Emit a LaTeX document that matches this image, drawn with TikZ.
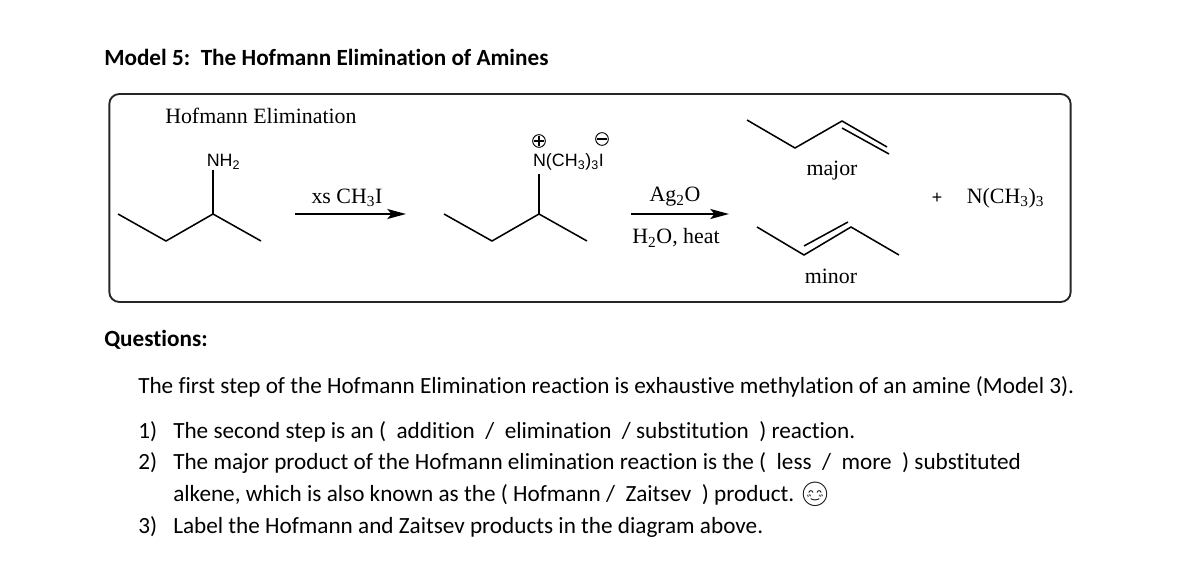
\documentclass[tikz,border=0pt]{standalone}
\usepackage{fontspec}
\usepackage{amsmath}
\setmainfont[Ligatures=NoCommon]{Carlito}
\newfontfamily\seriffont{Liberation Serif}
\newfontfamily\arialfont{Liberation Sans}
\newfontfamily\emojifont{Noto Emoji}
\usetikzlibrary{arrows.meta,positioning}

\begin{document}
\begin{tikzpicture}[x=0.75pt, y=-0.75pt, node distance=2.0mm and 2.5mm, >={Stealth[length=14pt, width=7.5pt, inset=3pt]},
		title/.style={draw=none, inner sep=0pt, anchor=base west, font=\fontsize{17.4}{20}\selectfont\bfseries},
		body/.style={draw=none, inner sep=0pt, anchor=base west, font=\fontsize{17.4}{20}\selectfont},
		word/.style={draw=none, inner sep=0pt, font=\fontsize{16.4}{18}\selectfont\seriffont},
		atom/.style={draw=none, inner sep=0pt, font=\fontsize{13.4}{14}\selectfont\arialfont},
		charge/.style={draw=black, circle, line width=0.7pt, minimum size=9.5pt, inner sep=0pt},
		sign/.style={line width=0.8pt, shorten >=1.6pt, shorten <=1.6pt},
		bond/.style={line width=1.15pt, -, color=black},
		rxnarrow/.style={line width=1.15pt, ->, color=black}
		]
		\useasboundingbox (0,0) rectangle (1179,585);
		\node[title](head) at (104,66) {Model 5:\ \ The Hofmann Elimination of Amines};
		\node[draw=black!85, line width=1.4pt, rounded corners=7.5pt, minimum width=721pt, minimum height=156pt, inner sep=0pt](box) at (590,198) {};
		\node[word, anchor=base west](name) at (165,123) {Hofmann Elimination};

		% amine
		\coordinate (a1) at (118,214);
		\coordinate (a2) at (166,241);
		\coordinate (a3) at (213,214);
		\coordinate (a4) at (261,241);
		\node[atom](nh2) at (223.5,162) {NH\textsubscript{2}};
		\coordinate (a5) at (213,170);
		\draw [bond] (a1) -- (a2) -- (a3) -- (a4);
		\draw [bond] (a3) -- (a5);

		% first arrow
		\coordinate (r1s) at (295,214);
		\coordinate (r1e) at (406,214);
		\draw [rxnarrow] (r1s) -- (r1e);
		\node[word](xs) at (347,198) {xs CH\textsubscript{3}I};

		% ammonium salt
		\coordinate (b1) at (444,214);
		\coordinate (b2) at (492,241);
		\coordinate (b3) at (539,214);
		\coordinate (b4) at (587,241);
		\coordinate (b5) at (539,174);
		\node[atom](salt) at (568.5,162) {N(CH\textsubscript{3})\textsubscript{3}I};
		\node[charge](plus) at (539,141) {};
		\node[charge](minus) at (602,139) {};
		\draw [sign] (plus.west) -- (plus.east);
		\draw [sign] (plus.north) -- (plus.south);
		\draw [sign] (minus.west) -- (minus.east);
		\draw [bond] (b1) -- (b2) -- (b3) -- (b4);
		\draw [bond] (b3) -- (b5);

		% second arrow
		\coordinate (r2s) at (631,214);
		\coordinate (r2e) at (729,214);
		\draw [rxnarrow] (r2s) -- (r2e);
		\node[word](ag) at (675,197) {Ag\textsubscript{2}O};
		\node[word](heat) at (676,238) {H\textsubscript{2}O, heat};

		% major
		\coordinate (c1) at (747,120);
		\coordinate (c2) at (795,148);
		\coordinate (c3) at (842,121);
		\coordinate (c4) at (887,147);
		\coordinate (c5) at (842,128);
		\coordinate (c6) at (889,154);
		\draw [bond] (c1) -- (c2) -- (c3) -- (c4);
		\draw [bond] (c5) -- (c6);
		\node[word](major) at (832,171) {major};

		% minor
		\coordinate (d1) at (757,227);
		\coordinate (d2) at (804,255);
		\coordinate (d3) at (851,227);
		\coordinate (d4) at (899,255);
		\coordinate (d5) at (804,246);
		\coordinate (d6) at (848,222);
		\draw [bond] (d1) -- (d2) -- (d3) -- (d4);
		\draw [bond] (d5) -- (d6);
		\node[word](minor) at (831,276) {minor};

		\node[atom](sum) at (937,198) {+};
		\node[word](tma) [right=of sum, xshift=11pt] {N(CH\textsubscript{3})\textsubscript{3}};

		% questions
		\node[title](qhead) at (104,346.5) {Questions:};
		\node[body](intro) at (138,393) {The first step of the Hofmann Elimination reaction is exhaustive methylation of an amine (Model 3).};
		\node[body](n1) at (138,438) {1)};
		\node[body](q1) at (173,438) {The second step is an (\ \ addition\ \ /\ \ elimination\ \ / substitution\ \ ) reaction.};
		\node[body](n2) at (138,469) {2)};
		\node[body](q2) at (173,469) {The major product of the Hofmann elimination reaction is the (\ \ less\ \ /\ \ more\ \ ) substituted};
		\node[body](q2b) at (173,501) {alkene, which is also known as the ( Hofmann /\ \ Zaitsev\ \ ) product.};
		\node[draw=none, inner sep=0pt, font=\fontsize{18}{20}\selectfont\emojifont](smile) at (815,494) {😊};
		\node[body](n3) at (138,533) {3)};
		\node[body](q3) at (173,533) {Label the Hofmann and Zaitsev products in the diagram above.};
\end{tikzpicture}
\end{document}
